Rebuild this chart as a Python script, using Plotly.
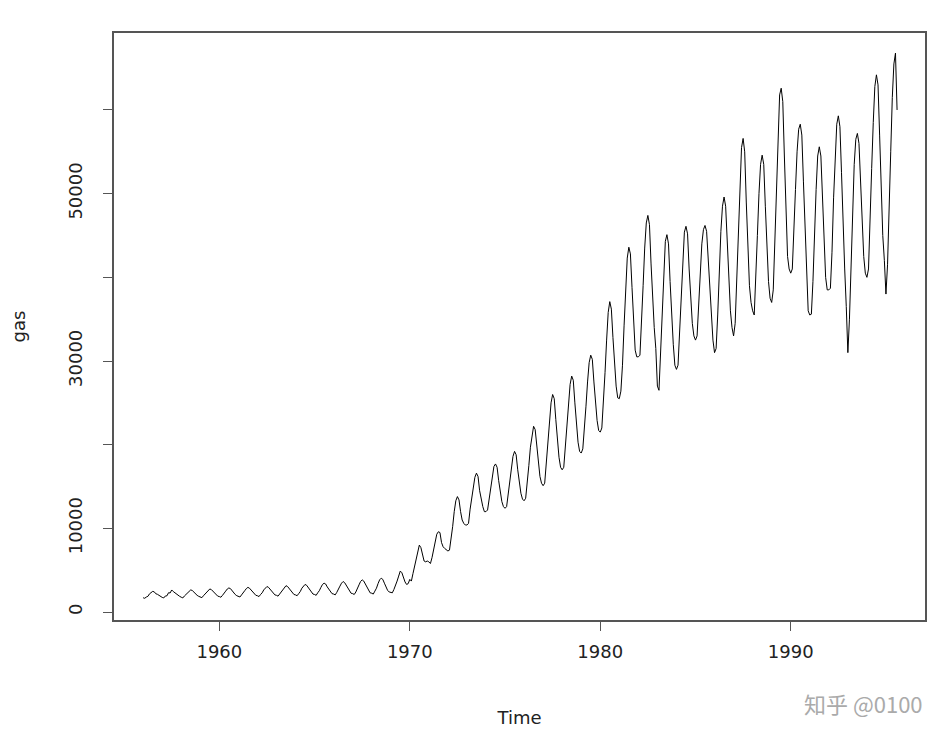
import plotly.graph_objects as go

# monthly gas production, Jan 1956 - Aug 1995
years = list(range(1956, 1996))
gas_by_year = [
    [1709, 1646, 1794, 1878, 2173, 2321, 2468, 2416, 2184, 2121, 1962, 1825],
    [1751, 1688, 1920, 1941, 2311, 2279, 2638, 2448, 2279, 2163, 1941, 1878],
    [1773, 1688, 1920, 2100, 2300, 2550, 2650, 2570, 2350, 2200, 2000, 1880],
    [1800, 1720, 1950, 2150, 2400, 2650, 2760, 2680, 2450, 2250, 2050, 1900],
    [1850, 1770, 2000, 2200, 2500, 2750, 2880, 2800, 2550, 2350, 2100, 1950],
    [1900, 1800, 2050, 2250, 2550, 2800, 2950, 2850, 2600, 2400, 2150, 2000],
    [1950, 1850, 2100, 2300, 2650, 2900, 3050, 2950, 2700, 2450, 2200, 2050],
    [2000, 1900, 2150, 2400, 2750, 3000, 3150, 3050, 2800, 2550, 2250, 2100],
    [2050, 1950, 2200, 2450, 2850, 3150, 3300, 3200, 2900, 2600, 2300, 2150],
    [2100, 2000, 2300, 2550, 2950, 3300, 3450, 3350, 3000, 2700, 2400, 2200],
    [2150, 2050, 2350, 2650, 3100, 3450, 3650, 3500, 3150, 2800, 2450, 2250],
    [2200, 2100, 2400, 2750, 3250, 3650, 3850, 3700, 3300, 2900, 2500, 2300],
    [2250, 2150, 2500, 2850, 3400, 3850, 4050, 3900, 3450, 3000, 2600, 2400],
    [2350, 2300, 2700, 3100, 3700, 4300, 4900, 4700, 4100, 3600, 3300, 3400],
    [3900, 3700, 4600, 5400, 6300, 7300, 8000, 7700, 6800, 6100, 6000, 6100],
    [6000, 5800, 6500, 7500, 8600, 9300, 9600, 9500, 8300, 7800, 7600, 7400],
    [7300, 7400, 8700, 10200, 12000, 13300, 13800, 13400, 12000, 11000, 10600, 10400],
    [10400, 10600, 12300, 13600, 15000, 16100, 16600, 16200, 14500, 13300, 12600, 12000],
    [12000, 12200, 13600, 15200, 16500, 17400, 17700, 17300, 15700, 14300, 13200, 12600],
    [12400, 12600, 14000, 15800, 17400, 18600, 19200, 18800, 17000, 15300, 14200, 13500],
    [13300, 13600, 15300, 17500, 19700, 21300, 22200, 21800, 19700, 17800, 16200, 15400],
    [15100, 15400, 17600, 20300, 22900, 25000, 26000, 25500, 23000, 20500, 18500, 17300],
    [17000, 17300, 19600, 22300, 25000, 27200, 28200, 27700, 25000, 22500, 20300, 19200],
    [19000, 19500, 21800, 24600, 27500, 29800, 30700, 30200, 27500, 25000, 22900, 21700],
    [21500, 22000, 25000, 28600, 32500, 35800, 37100, 36200, 32800, 29700, 27000, 25600],
    [25500, 26400, 29500, 34200, 38700, 42300, 43600, 42800, 38800, 34400, 31300, 30500],
    [30500, 30700, 34100, 39000, 43500, 46500, 47400, 46300, 41600, 37000, 34000, 31500],
    [27000, 26500, 31000, 37000, 41500, 44300, 45100, 44000, 39500, 35000, 32000, 29500],
    [29000, 29500, 33500, 38500, 43000, 45400, 46100, 45200, 41000, 37000, 34500, 33000],
    [32500, 33000, 36500, 40500, 44000, 45700, 46200, 45500, 42000, 38000, 35000, 32500],
    [31000, 31500, 35500, 41000, 45500, 48500, 49600, 48500, 44500, 39500, 36000, 34000],
    [33000, 34500, 39500, 45500, 51500, 55500, 56600, 55000, 49000, 43000, 39000, 37000],
    [36000, 35500, 39500, 45000, 50000, 53500, 54600, 53500, 48500, 43000, 39500, 37500],
    [37000, 38500, 44500, 52000, 58000, 61800, 62600, 61000, 54500, 47000, 42500, 41000],
    [40500, 41000, 45000, 50500, 55000, 57700, 58300, 57000, 51500, 45500, 41500, 36000],
    [35500, 35600, 39500, 45500, 50500, 54500, 55600, 54500, 49000, 43500, 40000, 38500],
    [38500, 38700, 43000, 49500, 54500, 58300, 59300, 58000, 52500, 46000, 41000, 36500],
    [31000, 35000, 41000, 48000, 53500, 56500, 57200, 56000, 51500, 46000, 42500, 40500],
    [40000, 41000, 46000, 53000, 58500, 62800, 64200, 63000, 57000, 50000, 45000, 42000],
    [38000, 41500, 47000, 55000, 61500, 65500, 66800, 60000],
]

t = []
gas = []
for yr, row in zip(years, gas_by_year):
    for m, v in enumerate(row):
        t.append(yr + m / 12)
        gas.append(v)

y_ticks = [0, 10000, 20000, 30000, 40000, 50000, 60000]
y_labels = ["0", "10000", "", "30000", "", "50000", ""]
x_ticks = [1960, 1970, 1980, 1990]

fig = go.Figure()
fig.add_trace(go.Scatter(x=t, y=gas, mode="lines",
                         line=dict(color="black", width=1)))

axis_style = dict(showline=True, linecolor="#555", linewidth=1.5, mirror=True,
                  ticks="outside", ticklen=9, tickcolor="#555",
                  showgrid=False, zeroline=False, automargin=False,
                  tickfont=dict(size=18, color="#222"))

fig.update_layout(
    width=946, height=744,
    margin=dict(l=106, r=29, t=25, b=132),
    paper_bgcolor="white", plot_bgcolor="white",
    font=dict(family="DejaVu Sans", color="#222"),
    showlegend=False,
    xaxis=dict(range=[1954.47, 1997.05], tickvals=x_ticks,
               ticklabelstandoff=6,
               title=dict(text="Time", font=dict(size=18), standoff=50),
               **axis_style),
    yaxis=dict(range=[-950, 69200], tickvals=y_ticks, ticktext=y_labels,
               tickangle=-90, ticklabelstandoff=14,
               title=dict(text="gas", font=dict(size=18), standoff=55),
               **axis_style),
)

fig.add_annotation(text="知乎 @0100", xref="paper", yref="paper",
                   x=1.0, y=-0.11, xanchor="right", yanchor="top",
                   showarrow=False,
                   font=dict(family="Noto Sans CJK SC", size=22, color="#aaa"))

fig.write_html("out.html")
